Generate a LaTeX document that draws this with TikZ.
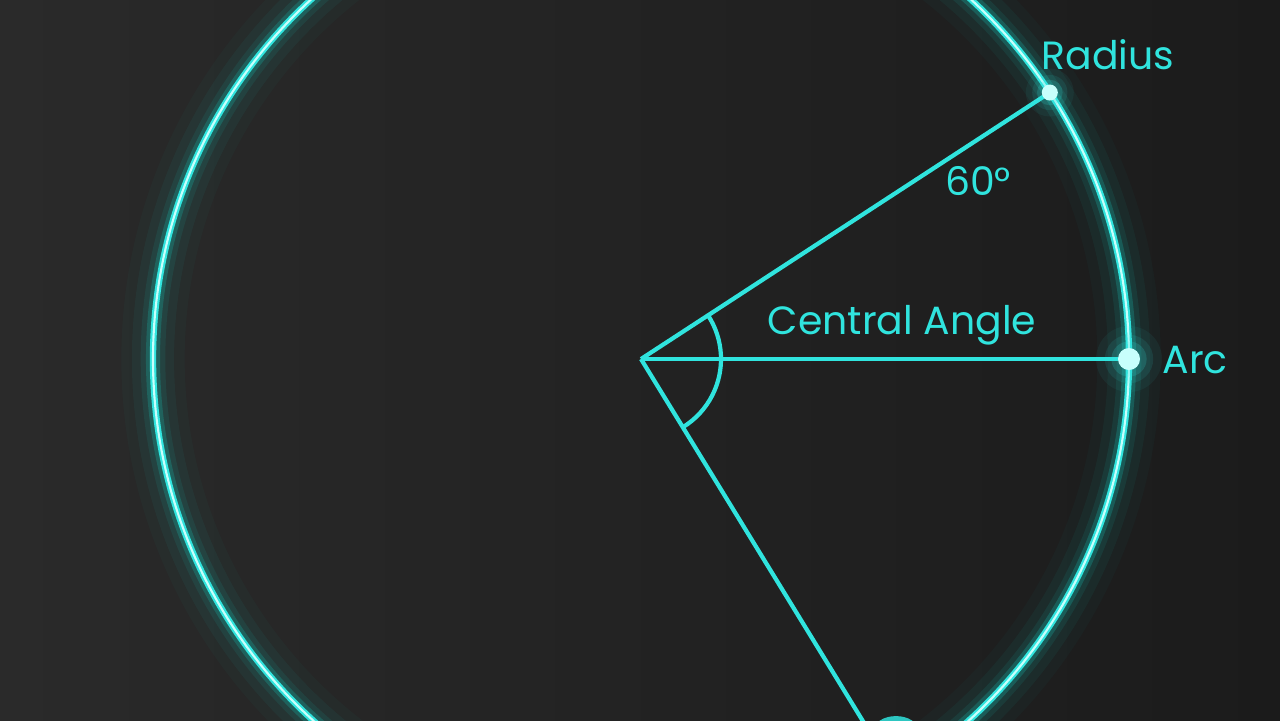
\documentclass[tikz,border=0pt]{standalone}
\usepackage{fontspec}
\setmainfont{Poppins}
\usetikzlibrary{calc}
\definecolor{bgdark}{RGB}{27,27,27}
\definecolor{bglight}{RGB}{42,42,42}
\definecolor{neon}{RGB}{48,228,222}
\definecolor{neoncore}{RGB}{200,255,252}
\definecolor{neonglow}{RGB}{25,170,160}
\tikzset{
	ray/.style={neon,line width=1.2pt},
	lbl/.style={text=neon,font=\fontsize{11.2}{13}\selectfont,inner sep=0pt},
	spot/.style={circle,fill=neoncore,inner sep=0pt,minimum size=#1}
}
\begin{document}
\begin{tikzpicture}[x=0.01cm,y=-0.01cm]
	\useasboundingbox (0,0) rectangle (1280,720);
	\shade[left color=bglight,right color=bgdark] (0,0) rectangle (1280,720);
	\clip (0,0) rectangle (1280,720);
	\pgfmathsetmacro{\R}{488}
	\coordinate (O) at (641,359);
	% glowing rim
	\foreach \w/\o in {18/0.04,12/0.07,7/0.12,4/0.3}
		\draw[neonglow,line width=\w pt,opacity=\o] (O) circle[radius=\R];
	\draw[neon,line width=1.8pt] (O) circle[radius=\R];
	\draw[neoncore,line width=0.6pt] (O) circle[radius=\R];
	% points on the rim
	\coordinate (P1) at ($(O)+(-33.1:\R)$);
	\coordinate (P2) at ($(O)+(0:\R)$);
	\coordinate (P3) at ($(O)+(58.5:\R)$);
	\begin{scope}[ray]
		\draw (O)--(P1);
		\draw (O)--(P2);
		\draw (O)--(P3);
		\draw ($(O)+(-33.1:80)$) arc[start angle=-33.1,end angle=58.5,radius=80];
	\end{scope}
	% glowing dots
	\foreach \p/\s in {P1/16,P2/22,P3/26}{
		\foreach \r/\o in {3/0.06,2.2/0.1,1.6/0.18}
			\fill[neon,opacity=\o] (\p) circle[radius=\r*\s/2];
		\node[spot=\s*0.01cm] (dot\p) at (\p) {};
	}
	\fill[neon,opacity=0.85] ($(P3)+(0,-45)$) ellipse[x radius=22,y radius=14];
	% labels
	\node[lbl] (radius) at (1108,55) {Radius};
	\node[lbl] (arc) at (1195,360) {Arc};
	\node[lbl] (central) at (902,325) {Central Angle};
	\node[lbl] (deg) at (978,181) {60°};
\end{tikzpicture}
\end{document}
